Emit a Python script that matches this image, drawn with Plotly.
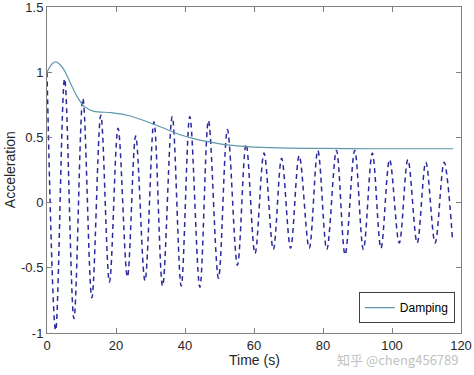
import plotly.graph_objects as go

# Oscillating acceleration (dashed) - extrema
osc_t = [0, 2.5, 5.1, 7.8, 10.4, 13.0, 15.6, 18.1, 20.6, 23.3, 25.7, 28.4, 31.0, 33.5,
         36.3, 38.9, 41.4, 44.3, 46.8, 49.7, 52.3, 55.2, 57.7, 60.3, 62.9, 65.6, 68.0,
         70.6, 73.1, 76.0, 78.5, 81.1, 83.9, 86.4, 89.2, 91.7, 94.3, 96.8, 99.3, 102.1,
         104.6, 107.3, 109.8, 112.5, 115.1, 117.5]
osc_v = [1.0, -0.98, 0.95, -0.89, 0.80, -0.73, 0.67, -0.61, 0.57, -0.57, 0.51, -0.60,
         0.62, -0.64, 0.66, -0.64, 0.66, -0.65, 0.63, -0.58, 0.56, -0.48, 0.45, -0.39,
         0.38, -0.36, 0.34, -0.35, 0.36, -0.35, 0.40, -0.36, 0.40, -0.40, 0.40, -0.36,
         0.38, -0.35, 0.33, -0.31, 0.33, -0.31, 0.31, -0.31, 0.31, -0.27]

# Damping envelope
damp_t = [0, 0.6, 1.5, 2.5, 3.5, 4.9, 6.9, 8.8, 10.7, 13.6, 18.5, 23.3, 28.1, 33.0,
          38.6, 43.4, 48.2, 53.0, 57.9, 67.5, 79.0, 95.0, 117.7]
damp_v = [1.0, 1.03, 1.065, 1.08, 1.065, 1.02, 0.91, 0.81, 0.74, 0.70, 0.69, 0.67,
          0.63, 0.58, 0.52, 0.485, 0.46, 0.44, 0.43, 0.42, 0.416, 0.413, 0.413]

x_ticks = [0, 20, 40, 60, 80, 100, 120]
y_ticks = [-1, -0.5, 0, 0.5, 1, 1.5]
y_tick_labels = ["-1", "-0.5", "0", "0.5", "1", "1.5"]

font_family = "Liberation Sans, Arial, sans-serif"
text_color = "#262626"

fig = go.Figure()
fig.add_trace(go.Scatter(
    x=osc_t, y=osc_v, mode="lines", showlegend=False,
    line=dict(color="#2a2a9c", width=1.5, dash="5px,4px", shape="spline", smoothing=1.0),
))
fig.add_trace(go.Scatter(
    x=damp_t, y=damp_v, mode="lines", name="Damping",
    line=dict(color="#5f97ab", width=1.2, shape="spline", smoothing=0.8),
))

axis_common = dict(
    showline=True, linecolor="#808080", linewidth=1, mirror="ticks",
    ticks="inside", ticklen=5, tickcolor="#808080",
    showgrid=False, zeroline=False, automargin=False,
    ticklabeloverflow="allow",
    tickfont=dict(family=font_family, size=13, color=text_color),
)

fig.update_xaxes(range=[0, 120], tickvals=x_ticks, **axis_common)
fig.update_yaxes(range=[-1, 1.5], tickvals=y_ticks, ticktext=y_tick_labels, **axis_common)

fig.update_layout(
    width=474, height=375,
    margin=dict(l=47, r=13, t=7, b=42),
    plot_bgcolor="white", paper_bgcolor="white",
    legend=dict(x=0.985, y=0.03, xanchor="right", yanchor="bottom",
                bordercolor="#404040", borderwidth=1, bgcolor="white",
                font=dict(family=font_family, size=12, color="#000000"),
                tracegroupgap=0),
    annotations=[
        dict(text="Time (s)", xref="paper", yref="paper", x=0.5, y=-0.083,
             xanchor="center", yanchor="middle", showarrow=False,
             font=dict(family=font_family, size=14, color=text_color)),
        dict(text="Acceleration", xref="paper", yref="paper", x=-0.089, y=0.5,
             xanchor="center", yanchor="middle", showarrow=False, textangle=-90,
             font=dict(family=font_family, size=14, color=text_color)),
        dict(text="知乎 @cheng456789", xref="paper", yref="paper",
             x=1.0, y=-0.082, xanchor="right", yanchor="middle", showarrow=False,
             font=dict(family="Noto Sans CJK SC", size=13, color="rgba(170,170,170,0.75)")),
    ],
)

fig.write_html("out.html",
               config={"displayModeBar": False},
               post_script="document.body.style.margin='0';document.body.style.padding='0';")
